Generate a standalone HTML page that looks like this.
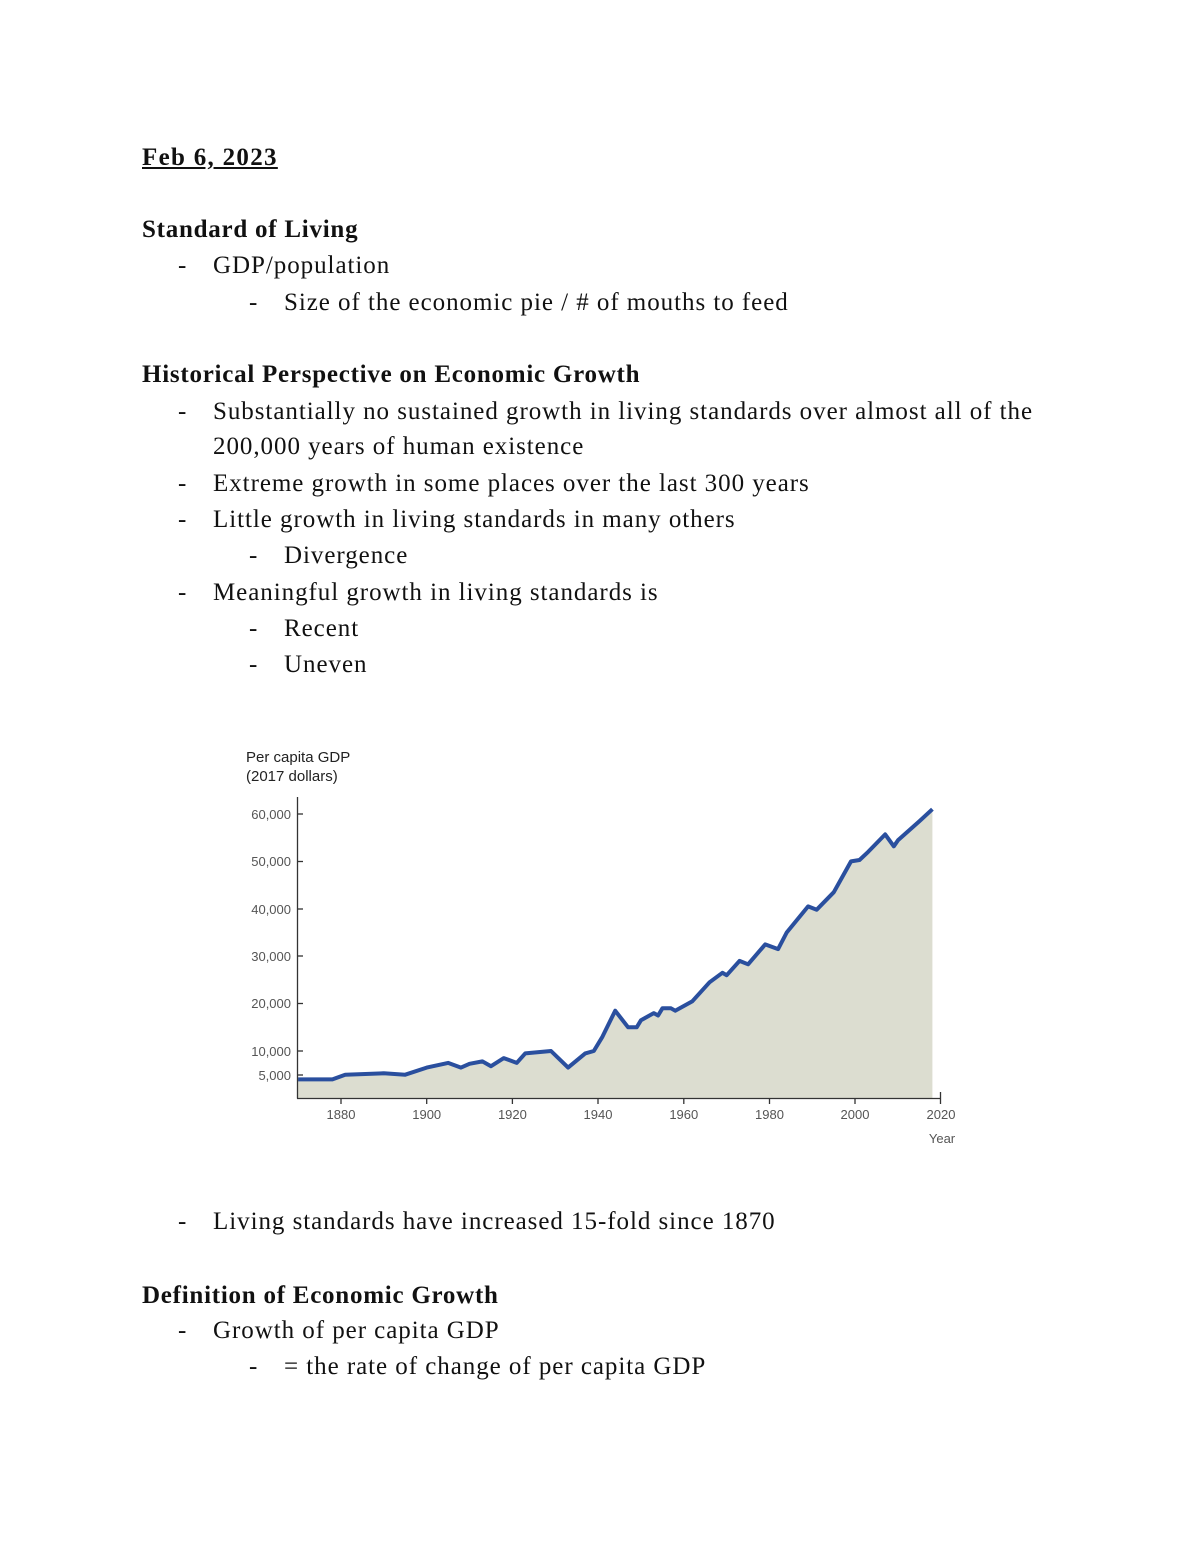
<!DOCTYPE html>
<html><head><meta charset="utf-8">
<style>
body{margin:0;background:#fff;}
#p{position:relative;width:1200px;height:1553px;overflow:hidden;font-family:"Liberation Serif","DejaVu Serif",serif;font-size:25px;color:#111;}
.l{position:absolute;line-height:30px;white-space:nowrap;letter-spacing:0.95px;}
.b{font-weight:bold;letter-spacing:0.75px;}
</style></head><body><div id="p">
<div class="l b" style="left:142px;top:143px;text-decoration:underline;letter-spacing:1.3px;">Feb 6, 2023</div>
<div class="l b" style="left:142px;top:215px;">Standard of Living</div>
<div class="l" style="left:178px;top:251px;">-</div><div class="l" style="left:213px;top:251px;">GDP/population</div>
<div class="l" style="left:249px;top:288px;">-</div><div class="l" style="left:284px;top:288px;">Size of the economic pie / # of mouths to feed</div>
<div class="l b" style="left:142px;top:360px;">Historical Perspective on Economic Growth</div>
<div class="l" style="left:178px;top:397px;">-</div><div class="l" style="left:213px;top:397px;">Substantially no sustained growth in living standards over almost all of the</div>
<div class="l" style="left:213px;top:432px;">200,000 years of human existence</div>
<div class="l" style="left:178px;top:469px;">-</div><div class="l" style="left:213px;top:469px;">Extreme growth in some places over the last 300 years</div>
<div class="l" style="left:178px;top:505px;">-</div><div class="l" style="left:213px;top:505px;">Little growth in living standards in many others</div>
<div class="l" style="left:249px;top:541px;">-</div><div class="l" style="left:284px;top:541px;">Divergence</div>
<div class="l" style="left:178px;top:578px;">-</div><div class="l" style="left:213px;top:578px;">Meaningful growth in living standards is</div>
<div class="l" style="left:249px;top:614px;">-</div><div class="l" style="left:284px;top:614px;">Recent</div>
<div class="l" style="left:249px;top:650px;">-</div><div class="l" style="left:284px;top:650px;">Uneven</div>
<div class="l" style="left:178px;top:1207px;">-</div><div class="l" style="left:213px;top:1207px;">Living standards have increased 15-fold since 1870</div>
<div class="l b" style="left:142px;top:1281px;">Definition of Economic Growth</div>
<div class="l" style="left:178px;top:1316px;">-</div><div class="l" style="left:213px;top:1316px;">Growth of per capita GDP</div>
<div class="l" style="left:249px;top:1352px;">-</div><div class="l" style="left:284px;top:1352px;">= the rate of change of per capita GDP</div>

<svg style="position:absolute;left:0;top:0" width="1200" height="1553" font-family="Liberation Sans, sans-serif">
<text x="246" y="762" font-size="15" fill="#222">Per capita GDP</text>
<text x="246" y="781" font-size="15" fill="#222">(2017 dollars)</text>
<path d="M298.1,1079.4 L332.4,1079.4 345.2,1074.7 383.8,1073.3 405.2,1074.7 426.7,1067.6 448.1,1062.9 461,1067.6 469.5,1063.8 482.4,1061.4 491,1066.2 503.8,1058.1 516.7,1062.9 525.2,1053.4 551,1051 568.1,1067.6 585.2,1053.4 593.8,1051 602.4,1036.8 615.2,1010.7 628.1,1027.3 636.7,1027.3 641,1020.2 653.8,1013.1 658.1,1015.5 662.4,1008.3 671,1008.3 675.2,1010.7 683.8,1006 692.4,1001.2 709.5,982.3 722.4,972.8 726.7,975.2 739.5,960.9 748.1,964.3 765.2,944.4 778.1,949.1 786.7,932.5 808.1,906.4 816.7,909.7 833.8,892.2 851,861.4 859.5,860 868.1,851.9 885.2,834.4 893.8,846.3 898.1,840.1 919.5,821.1 932.4,809.2 L932.4,1098 L298,1098 Z" fill="#dcddd0"/>
<polyline points="298.1,1079.4 332.4,1079.4 345.2,1074.7 383.8,1073.3 405.2,1074.7 426.7,1067.6 448.1,1062.9 461,1067.6 469.5,1063.8 482.4,1061.4 491,1066.2 503.8,1058.1 516.7,1062.9 525.2,1053.4 551,1051 568.1,1067.6 585.2,1053.4 593.8,1051 602.4,1036.8 615.2,1010.7 628.1,1027.3 636.7,1027.3 641,1020.2 653.8,1013.1 658.1,1015.5 662.4,1008.3 671,1008.3 675.2,1010.7 683.8,1006 692.4,1001.2 709.5,982.3 722.4,972.8 726.7,975.2 739.5,960.9 748.1,964.3 765.2,944.4 778.1,949.1 786.7,932.5 808.1,906.4 816.7,909.7 833.8,892.2 851,861.4 859.5,860 868.1,851.9 885.2,834.4 893.8,846.3 898.1,840.1 919.5,821.1 932.4,809.2" fill="none" stroke="#2a4f9e" stroke-width="4" stroke-linejoin="round"/>
<g stroke="#333" stroke-width="1.3">
<line x1="297.5" y1="797" x2="297.5" y2="1098.5"/>
<line x1="297" y1="1098.5" x2="941" y2="1098.5"/>
<line x1="297" y1="814" x2="303" y2="814"/><line x1="297" y1="861.5" x2="303" y2="861.5"/><line x1="297" y1="909" x2="303" y2="909"/><line x1="297" y1="956" x2="303" y2="956"/><line x1="297" y1="1003.5" x2="303" y2="1003.5"/><line x1="297" y1="1051" x2="303" y2="1051"/><line x1="297" y1="1075" x2="303" y2="1075"/>
<line x1="341" y1="1098" x2="341" y2="1104"/><line x1="426.7" y1="1098" x2="426.7" y2="1104"/><line x1="512.4" y1="1098" x2="512.4" y2="1104"/><line x1="598" y1="1098" x2="598" y2="1104"/><line x1="683.8" y1="1098" x2="683.8" y2="1104"/><line x1="769.5" y1="1098" x2="769.5" y2="1104"/><line x1="855" y1="1098" x2="855" y2="1104"/><line x1="940.5" y1="1092" x2="940.5" y2="1104"/>
</g>
<g font-size="13" fill="#555" text-anchor="end">
<text x="291" y="819">60,000</text><text x="291" y="866">50,000</text><text x="291" y="914">40,000</text><text x="291" y="961">30,000</text><text x="291" y="1008">20,000</text><text x="291" y="1056">10,000</text><text x="291" y="1080">5,000</text>
</g>
<g font-size="13" fill="#555" text-anchor="middle">
<text x="341" y="1119">1880</text><text x="426.7" y="1119">1900</text><text x="512.4" y="1119">1920</text><text x="598" y="1119">1940</text><text x="683.8" y="1119">1960</text><text x="769.5" y="1119">1980</text><text x="855" y="1119">2000</text><text x="941" y="1119">2020</text>
<text x="942" y="1143">Year</text>
</g>
</svg>
</div></body></html>
